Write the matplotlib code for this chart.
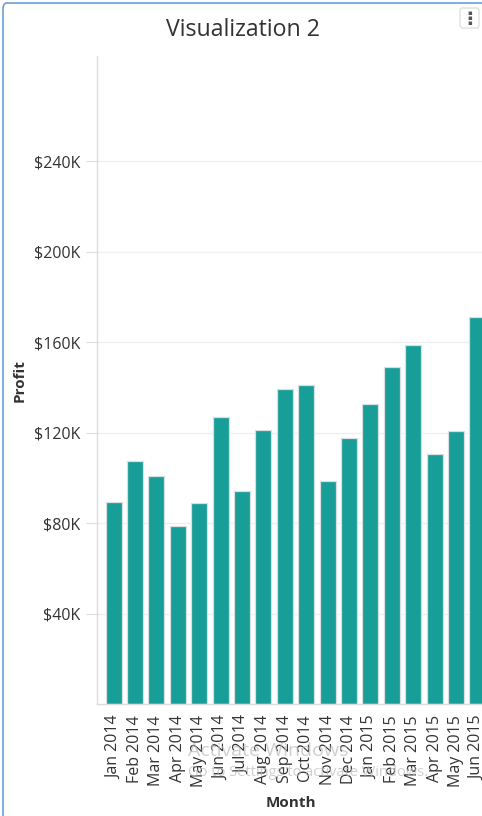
import matplotlib

matplotlib.use("Agg")
import matplotlib.pyplot as plt  # noqa: E402
from matplotlib.patches import FancyBboxPatch  # noqa: E402
from matplotlib.ticker import FuncFormatter  # noqa: E402

months = ["Jan 2014", "Feb 2014", "Mar 2014", "Apr 2014", "May 2014", "Jun 2014",
          "Jul 2014", "Aug 2014", "Sep 2014", "Oct 2014", "Nov 2014", "Dec 2014",
          "Jan 2015", "Feb 2015", "Mar 2015", "Apr 2015", "May 2015", "Jun 2015"]
profit = [89300, 107400, 100800, 78700, 88700, 126700,
          94100, 121200, 139400, 141100, 98600, 117800,
          132700, 149200, 158800, 110600, 120500, 170900]
yticks = [40000, 80000, 120000, 160000, 200000, 240000]

W, H = 482, 816
plt.rcParams["font.family"] = ["Open Sans", "DejaVu Sans"]
fig = plt.figure(figsize=(W / 100, H / 100), dpi=100)

# card frame (left/top blue edge) and the menu button
fig.patches.append(FancyBboxPatch((3 / W, -0.05), 1.1, 1.05 - 3 / H,
                                  boxstyle="round,pad=0,rounding_size=0.008",
                                  transform=fig.transFigure, fill=False,
                                  edgecolor="#6a9fd8", linewidth=1.2))
fig.patches.append(FancyBboxPatch((460 / W, 1 - 28 / H), 19 / W, 20 / H,
                                  boxstyle="round,pad=0,rounding_size=0.004",
                                  transform=fig.transFigure, facecolor="white",
                                  edgecolor="#d8d8d8", linewidth=0.8))
for dy in (13, 18, 23):
    fig.text(469.5 / W, 1 - dy / H, "\u25aa", ha="center", va="center",
             fontsize=5, color="#555555", family="DejaVu Sans")

left, right, top, bottom = 97, 488, 56, 704
ax = fig.add_axes([left / W, 1 - bottom / H, (right - left) / W, (bottom - top) / H])
x = list(range(len(months)))
ax.bar(x, profit, width=0.75, color="#179e98", edgecolor="#d9dede", linewidth=0.9,
       zorder=2)
ax.set_xlim(-0.78, 17.5)
ax.set_ylim(0, 286500)
ax.set_yticks(yticks)
ax.yaxis.set_major_formatter(FuncFormatter(lambda v, _: f"${v / 1000:.0f}K"))
ax.grid(axis="y", color="#efefef", linewidth=0.9, zorder=0)
ax.set_xticks(x)
ax.set_xticklabels(months, rotation=90, fontsize=11.5, color="#333333")
ax.tick_params(axis="y", labelsize=11.5, labelcolor="#333333", length=8,
               color="#dddddd", pad=4)
ax.tick_params(axis="x", length=0, pad=8)
for s in ("top", "right"):
    ax.spines[s].set_visible(False)
for s in ("left", "bottom"):
    ax.spines[s].set_color("#dddddd")
    ax.spines[s].set_linewidth(1.0)

ax.set_xlabel("Month", fontsize=11, fontweight="bold", color="#333333")
ax.set_ylabel("Profit", fontsize=11, fontweight="bold", color="#333333")
ax.xaxis.set_label_coords((291 - left) / (right - left), -(796 - bottom) / (bottom - top))
ax.yaxis.set_label_coords(-(97 - 27) / (right - left), (bottom - 381) / (bottom - top))

fig.text(243 / W, 1 - 30 / H, "Visualization 2", ha="center", va="center",
         fontsize=16.7, color="#333333")

# OS watermark visible in the screenshot
fig.text(268 / W, 1 - 751 / H, "Activate Windows", ha="center", va="center",
         fontsize=14, color="#bbbbbb", alpha=0.7)
fig.text(308 / W, 1 - 772 / H, "Go to Settings to activate Windows.", ha="center",
         va="center", fontsize=10.5, color="#bbbbbb", alpha=0.7)

fig.savefig("out.png", dpi=100)
